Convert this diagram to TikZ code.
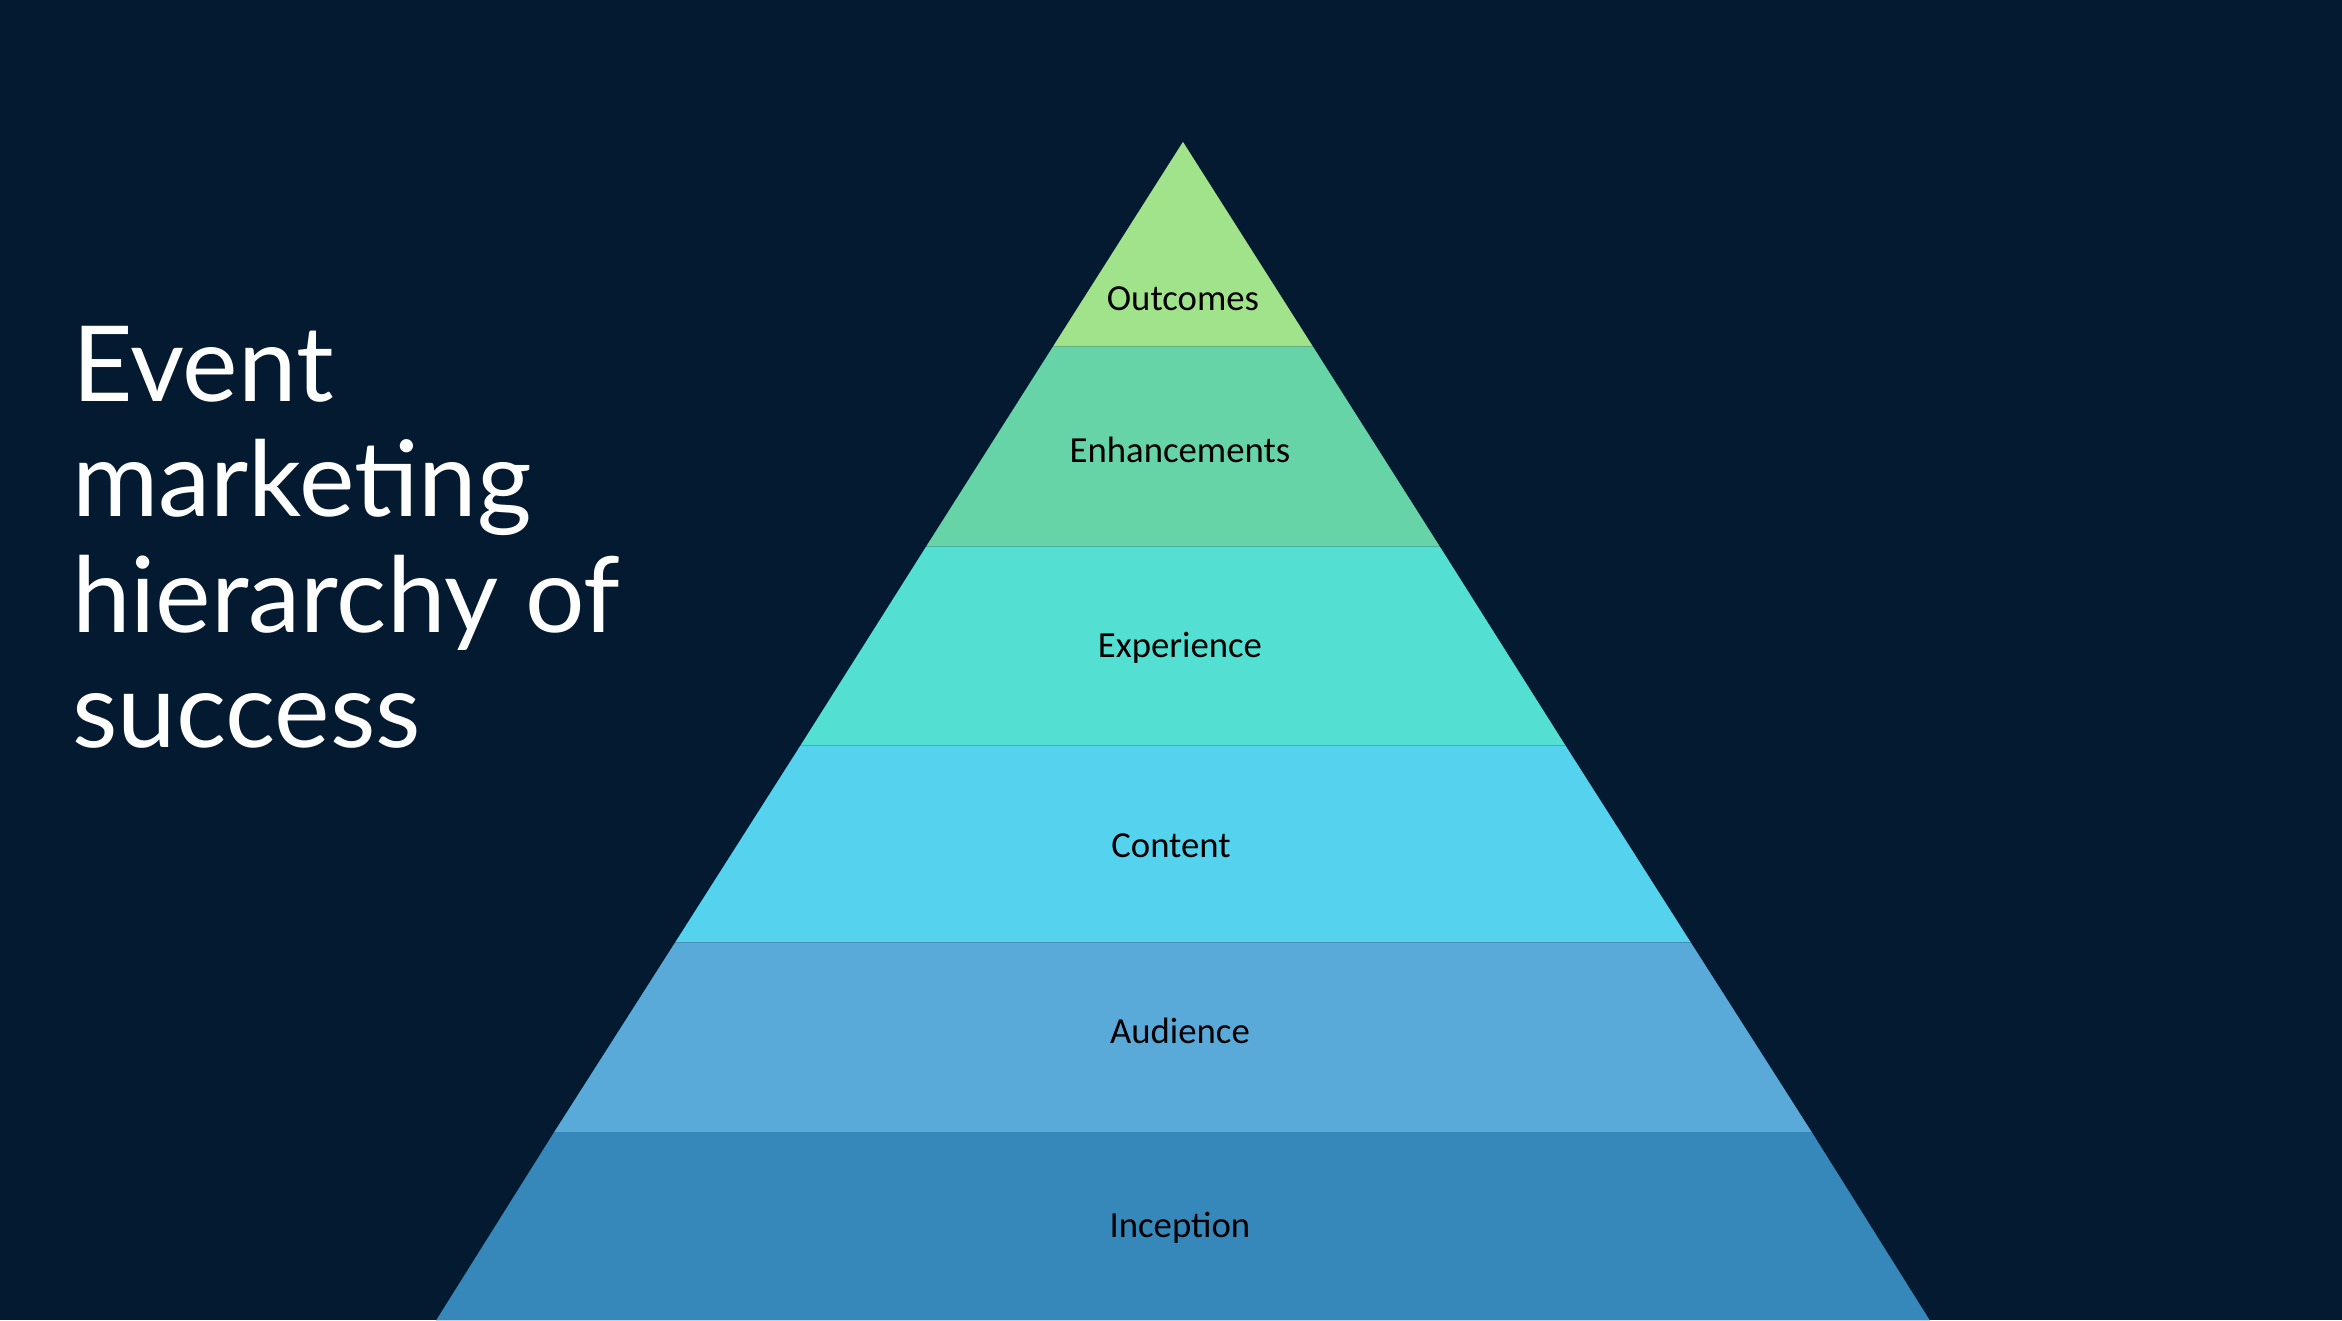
\documentclass[tikz,border=0pt]{standalone}
\usepackage{fontspec}
\setmainfont{Carlito}
\newfontfamily\titlefont{Lato}
\definecolor{bgnavy}{HTML}{031A31}
\definecolor{lvlone}{HTML}{A0E38A}
\definecolor{lvltwo}{HTML}{66D4A6}
\definecolor{lvlthree}{HTML}{53DFD2}
\definecolor{lvlfour}{HTML}{55D3EE}
\definecolor{lvlfive}{HTML}{5AAAD9}
\definecolor{lvlsix}{HTML}{3688BA}
\tikzset{
  band/.style={draw=none},
  lvl label/.style={font=\fontsize{14}{16}\selectfont, text=black},
  title text/.style={font=\titlefont\fontsize{40}{44}\selectfont, text=white, align=left, anchor=north west}
}
\begin{document}
\begin{tikzpicture}[x=0.02cm,y=-0.02cm]
%%
  \fill [bgnavy] (0,0) rectangle (1568,884);
  \useasboundingbox (0,0) rectangle (1568,884);
%
  \fill [band,lvlone]   (792,95) -- (879,232) -- (705,232) -- cycle;
  \fill [band,lvltwo]   (705,232) -- (879,232) -- (964,366) -- (620,366) -- cycle;
  \fill [band,lvlthree] (620,366) -- (964,366) -- (1048,499) -- (536,499) -- cycle;
  \fill [band,lvlfour]  (536,499) -- (1048,499) -- (1132,631) -- (452,631) -- cycle;
  \fill [band,lvlfive]  (452,631) -- (1132,631) -- (1213,758) -- (371,758) -- cycle;
  \fill [band,lvlsix]   (371,758) -- (1213,758) -- (1292,884) -- (292,884) -- cycle;
%
  \node (lbl_0) at (792,200) [lvl label] {Outcomes};
  \node (lbl_1) at (790,301) [lvl label] {Enhancements};
  \node (lbl_2) at (790,434) [lvl label] {Experience};
  \node (lbl_3) at (784,566) [lvl label] {Content};
  \node (lbl_4) at (790,690) [lvl label] {Audience};
  \node (lbl_5) at (790,822) [lvl label] {Inception};
%
  \node (title) at (42,212) [title text] {Event\\marketing\\hierarchy of\\success};
%
\end{tikzpicture}
\end{document}
